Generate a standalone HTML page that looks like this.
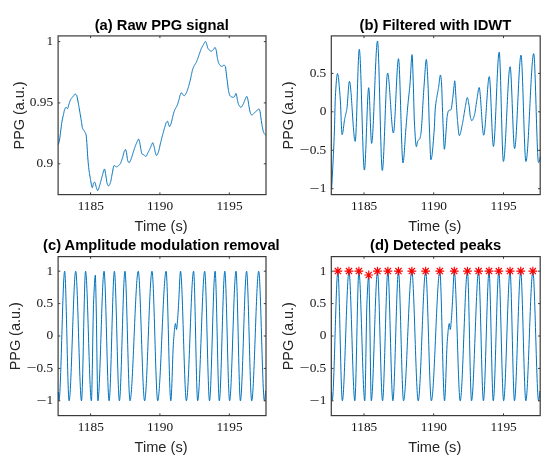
<!DOCTYPE html>
<html><head><meta charset="utf-8"><title>PPG figure</title><style>html,body{margin:0;padding:0;background:#fff;overflow:hidden}svg{display:block}</style></head><body>
<svg width="550" height="460" viewBox="0 0 550 460">
<rect width="550" height="460" fill="#fff"/>
<style>text{font-family:"Liberation Sans",Arial,Helvetica,sans-serif;fill:#262626}.tk{font-family:"Liberation Serif","Times New Roman",serif;font-size:13.33px;fill:#151515}.lb{font-size:14.67px}.tt{font-size:14.67px;font-weight:bold;fill:#000}</style>
<path d="M58.30 144.50L58.50 144.05L58.70 143.44L58.90 142.72L59.10 141.89L59.30 140.98L59.50 140.00L59.50 140.00L59.70 138.84L59.90 137.44L60.10 135.86L60.30 134.21L60.50 132.56L60.70 131.00L60.70 131.00L60.90 129.48L61.10 127.93L61.30 126.37L61.50 124.85L61.70 123.41L61.90 122.10L62.00 121.50L62.10 120.94L62.30 119.88L62.50 118.89L62.70 117.96L62.90 117.07L63.10 116.20L63.30 115.33L63.50 114.45L63.60 114.00L63.70 113.53L63.90 112.53L64.10 111.53L64.30 110.66L64.50 110.00L64.50 110.00L64.70 109.49L64.90 109.00L65.10 108.55L65.30 108.14L65.50 107.80L65.70 107.53L65.90 107.36L66.10 107.30L66.10 107.30L66.30 107.37L66.50 107.56L66.70 107.81L66.90 108.09L67.10 108.34L67.30 108.53L67.50 108.60L67.50 108.60L67.70 108.45L67.90 108.03L68.10 107.41L68.30 106.66L68.50 105.83L68.70 105.01L68.90 104.24L69.10 103.60L69.10 103.60L69.30 103.04L69.50 102.47L69.70 101.91L69.90 101.36L70.10 100.83L70.30 100.33L70.50 99.87L70.70 99.46L70.90 99.10L70.90 99.10L71.10 98.79L71.30 98.51L71.50 98.25L71.70 98.01L71.90 97.78L72.10 97.56L72.30 97.36L72.50 97.15L72.70 96.95L72.90 96.73L73.10 96.51L73.20 96.40L73.30 96.28L73.50 96.01L73.70 95.71L73.90 95.41L74.10 95.11L74.30 94.82L74.50 94.56L74.70 94.35L74.90 94.20L75.10 94.11L75.20 94.10L75.30 94.11L75.50 94.16L75.70 94.26L75.90 94.41L76.10 94.60L76.30 94.82L76.50 95.07L76.60 95.20L76.70 95.38L76.90 96.01L77.10 96.88L77.30 97.90L77.50 98.97L77.70 100.00L77.70 100.00L77.90 100.99L78.10 102.03L78.30 103.11L78.50 104.22L78.70 105.36L78.90 106.51L79.10 107.67L79.30 108.84L79.50 110.00L79.50 110.00L79.70 111.17L79.90 112.35L80.10 113.56L80.30 114.77L80.50 115.99L80.70 117.21L80.90 118.44L81.10 119.67L81.30 120.89L81.40 121.50L81.50 122.14L81.70 123.53L81.90 124.96L82.10 126.31L82.30 127.44L82.50 128.20L82.50 128.20L82.70 128.69L82.90 129.10L83.10 129.44L83.30 129.74L83.50 130.00L83.70 130.25L83.90 130.49L84.10 130.76L84.30 131.05L84.50 131.40L84.50 131.40L84.70 131.75L84.90 132.08L85.10 132.41L85.30 132.77L85.50 133.18L85.70 133.67L85.90 134.27L86.10 135.00L86.10 135.00L86.30 136.35L86.50 138.50L86.70 141.02L86.80 142.30L86.90 143.66L87.10 146.83L87.30 150.27L87.50 153.55L87.60 155.00L87.70 156.35L87.90 159.00L88.10 161.50L88.30 163.82L88.50 165.88L88.60 166.80L88.70 167.66L88.90 169.30L89.10 170.84L89.30 172.27L89.50 173.63L89.70 174.90L89.90 176.12L90.10 177.28L90.30 178.41L90.50 179.50L90.50 179.50L90.70 180.64L90.90 181.84L91.10 183.07L91.30 184.26L91.50 185.35L91.70 186.30L91.90 187.04L92.10 187.53L92.30 187.70L92.30 187.70L92.50 187.42L92.70 186.69L92.90 185.71L93.10 184.65L93.30 183.70L93.50 183.06L93.60 182.90L93.70 182.81L93.90 182.66L94.10 182.53L94.30 182.42L94.50 182.34L94.70 182.31L94.80 182.30L94.90 182.35L95.10 182.68L95.30 183.27L95.50 184.04L95.70 184.91L95.90 185.82L96.10 186.67L96.30 187.40L96.40 187.70L96.50 187.98L96.70 188.57L96.90 189.16L97.10 189.71L97.30 190.17L97.50 190.48L97.70 190.60L97.70 190.60L97.90 190.50L98.10 190.21L98.30 189.78L98.50 189.23L98.70 188.60L98.90 187.91L99.10 187.21L99.30 186.53L99.50 185.90L99.50 185.90L99.70 185.28L99.90 184.63L100.10 183.95L100.30 183.24L100.50 182.51L100.70 181.77L100.90 181.01L101.10 180.25L101.30 179.50L101.50 178.74L101.70 178.00L101.90 177.28L102.10 176.58L102.30 175.90L102.30 175.90L102.50 175.20L102.70 174.42L102.90 173.61L103.10 172.79L103.30 171.98L103.50 171.22L103.70 170.53L103.90 169.95L104.10 169.50L104.30 169.20L104.50 169.10L104.50 169.10L104.70 169.35L104.90 170.01L105.10 171.00L105.30 172.18L105.50 173.47L105.70 174.74L105.90 175.90L105.90 175.90L106.10 177.08L106.30 178.43L106.50 179.84L106.70 181.22L106.90 182.45L107.10 183.45L107.30 184.10L107.30 184.10L107.50 184.53L107.70 184.93L107.90 185.28L108.10 185.57L108.30 185.78L108.50 185.89L108.60 185.90L108.70 185.88L108.90 185.77L109.10 185.55L109.30 185.24L109.50 184.86L109.70 184.42L109.90 183.93L110.10 183.40L110.30 182.85L110.50 182.30L110.50 182.30L110.70 181.64L110.90 180.80L111.10 179.82L111.30 178.74L111.50 177.59L111.70 176.43L111.90 175.28L112.10 174.19L112.30 173.20L112.30 173.20L112.50 172.20L112.70 171.11L112.90 169.97L113.10 168.84L113.30 167.80L113.50 166.88L113.70 166.15L113.90 165.67L114.10 165.50L114.10 165.50L114.30 165.53L114.50 165.60L114.70 165.72L114.90 165.86L115.10 166.02L115.30 166.19L115.50 166.36L115.70 166.51L115.90 166.64L116.10 166.74L116.30 166.79L116.40 166.80L116.50 166.80L116.70 166.77L116.90 166.73L117.10 166.66L117.30 166.58L117.50 166.48L117.70 166.36L117.90 166.22L118.10 166.07L118.30 165.90L118.50 165.72L118.70 165.54L118.90 165.34L119.10 165.13L119.30 164.91L119.50 164.68L119.70 164.45L119.90 164.22L120.00 164.10L120.10 163.97L120.30 163.67L120.50 163.30L120.70 162.88L120.90 162.41L121.10 161.91L121.30 161.38L121.50 160.82L121.70 160.24L121.90 159.66L122.10 159.08L122.30 158.50L122.30 158.50L122.50 157.88L122.70 157.18L122.90 156.43L123.10 155.64L123.30 154.84L123.50 154.04L123.70 153.27L123.90 152.55L124.10 151.90L124.30 151.34L124.50 150.90L124.50 150.90L124.70 150.51L124.90 150.13L125.10 149.81L125.30 149.59L125.50 149.50L125.50 149.50L125.70 149.71L125.90 150.26L126.10 151.03L126.30 151.88L126.40 152.30L126.50 152.77L126.70 154.00L126.90 155.48L127.10 157.04L127.30 158.51L127.50 159.72L127.70 160.50L127.70 160.50L127.90 160.99L128.10 161.45L128.30 161.86L128.50 162.21L128.70 162.47L128.90 162.64L129.10 162.70L129.10 162.70L129.30 162.63L129.50 162.45L129.70 162.16L129.90 161.80L130.10 161.38L130.30 160.92L130.50 160.44L130.70 159.96L130.90 159.50L130.90 159.50L131.10 159.03L131.30 158.52L131.50 157.96L131.70 157.36L131.90 156.74L132.10 156.09L132.30 155.42L132.50 154.73L132.70 154.05L132.90 153.35L133.10 152.67L133.30 151.99L133.50 151.33L133.70 150.69L133.90 150.08L134.10 149.50L134.10 149.50L134.30 148.94L134.50 148.38L134.70 147.83L134.90 147.28L135.10 146.74L135.30 146.20L135.50 145.67L135.70 145.14L135.90 144.63L136.10 144.13L136.30 143.64L136.50 143.16L136.70 142.70L136.90 142.25L137.10 141.82L137.30 141.40L137.30 141.40L137.50 140.96L137.70 140.49L137.90 140.03L138.10 139.62L138.30 139.30L138.50 139.12L138.60 139.10L138.70 139.14L138.90 139.45L139.10 140.00L139.30 140.71L139.50 141.50L139.70 142.30L139.70 142.30L139.90 143.24L140.10 144.44L140.30 145.78L140.50 147.15L140.70 148.43L140.90 149.50L140.90 149.50L141.10 150.47L141.30 151.45L141.50 152.37L141.70 153.17L141.90 153.77L142.10 154.10L142.10 154.10L142.30 154.25L142.50 154.38L142.70 154.48L142.90 154.56L143.10 154.62L143.30 154.68L143.50 154.75L143.70 154.81L143.90 154.90L144.10 155.00L144.10 155.00L144.30 155.14L144.50 155.32L144.70 155.52L144.90 155.73L145.10 155.93L145.30 156.11L145.50 156.26L145.70 156.36L145.90 156.40L145.90 156.40L146.10 156.33L146.30 156.13L146.50 155.82L146.70 155.44L146.90 155.00L147.10 154.53L147.30 154.06L147.50 153.61L147.70 153.20L147.70 153.20L147.90 152.82L148.10 152.44L148.30 152.06L148.50 151.67L148.70 151.27L148.90 150.87L149.10 150.47L149.30 150.06L149.50 149.65L149.70 149.23L149.90 148.81L150.00 148.60L150.10 148.38L150.30 147.94L150.50 147.48L150.70 147.02L150.90 146.55L151.10 146.08L151.30 145.61L151.50 145.16L151.70 144.71L151.80 144.50L151.90 144.27L152.10 143.75L152.30 143.24L152.50 142.85L152.70 142.70L152.70 142.70L152.90 142.84L153.10 143.23L153.30 143.80L153.50 144.48L153.70 145.20L153.90 145.90L153.90 145.90L154.10 146.66L154.30 147.56L154.50 148.57L154.70 149.62L154.90 150.66L155.10 151.64L155.30 152.50L155.50 153.20L155.50 153.20L155.70 153.82L155.90 154.44L156.10 154.98L156.30 155.36L156.50 155.50L156.50 155.50L156.70 155.44L156.90 155.27L157.10 155.02L157.30 154.68L157.50 154.29L157.70 153.86L157.90 153.40L158.10 152.93L158.20 152.70L158.30 152.45L158.50 151.87L158.70 151.18L158.90 150.41L159.10 149.56L159.30 148.67L159.50 147.74L159.70 146.79L159.90 145.85L160.10 144.92L160.30 144.03L160.50 143.20L160.50 143.20L160.70 142.40L160.90 141.60L161.10 140.81L161.30 140.02L161.50 139.23L161.70 138.45L161.90 137.67L162.10 136.90L162.30 136.13L162.50 135.37L162.70 134.62L162.90 133.87L163.00 133.50L163.10 133.13L163.30 132.39L163.50 131.66L163.70 130.93L163.90 130.21L164.10 129.50L164.30 128.81L164.50 128.13L164.60 127.80L164.70 127.46L164.90 126.77L165.10 126.05L165.30 125.33L165.50 124.63L165.70 123.98L165.90 123.38L166.10 122.87L166.30 122.46L166.40 122.30L166.50 122.15L166.70 121.87L166.90 121.61L167.10 121.40L167.30 121.25L167.50 121.20L167.50 121.20L167.70 121.42L167.90 121.96L168.10 122.69L168.30 123.45L168.50 124.10L168.50 124.10L168.70 124.70L168.90 125.37L169.10 125.98L169.30 126.43L169.50 126.60L169.50 126.60L169.70 126.52L169.90 126.30L170.10 125.97L170.30 125.56L170.50 125.09L170.70 124.60L170.90 124.10L170.90 124.10L171.10 123.54L171.30 122.85L171.50 122.06L171.70 121.20L171.90 120.29L172.10 119.37L172.30 118.46L172.50 117.60L172.70 116.80L172.70 116.80L172.90 116.04L173.10 115.27L173.30 114.51L173.50 113.75L173.70 113.02L173.90 112.32L174.10 111.66L174.30 111.05L174.50 110.50L174.50 110.50L174.70 110.01L174.90 109.56L175.10 109.15L175.30 108.77L175.50 108.41L175.70 108.06L175.90 107.72L176.10 107.39L176.30 107.04L176.50 106.69L176.70 106.31L176.90 105.91L177.10 105.48L177.30 105.00L177.30 105.00L177.50 104.47L177.70 103.90L177.90 103.28L178.10 102.63L178.30 101.95L178.50 101.26L178.70 100.55L178.90 99.85L179.00 99.50L179.10 99.14L179.30 98.35L179.50 97.52L179.70 96.70L179.90 95.93L180.10 95.28L180.20 95.00L180.30 94.74L180.50 94.21L180.70 93.70L180.90 93.26L181.10 92.92L181.30 92.73L181.40 92.70L181.50 92.72L181.70 92.90L181.90 93.19L182.10 93.55L182.30 93.92L182.50 94.26L182.70 94.50L182.70 94.50L182.90 94.68L183.10 94.86L183.30 95.04L183.50 95.20L183.70 95.35L183.90 95.46L184.10 95.55L184.30 95.59L184.40 95.60L184.50 95.59L184.70 95.50L184.90 95.33L185.10 95.09L185.30 94.79L185.50 94.45L185.70 94.08L185.90 93.69L186.10 93.29L186.30 92.89L186.40 92.70L186.50 92.50L186.70 92.07L186.90 91.59L187.10 91.07L187.30 90.52L187.50 89.94L187.70 89.33L187.90 88.70L188.10 88.05L188.30 87.39L188.50 86.73L188.60 86.40L188.70 86.06L188.90 85.37L189.10 84.64L189.30 83.89L189.50 83.12L189.70 82.32L189.90 81.51L190.10 80.68L190.30 79.85L190.50 79.00L190.70 78.15L190.90 77.30L190.90 77.30L191.10 76.41L191.30 75.45L191.50 74.46L191.70 73.47L191.90 72.50L192.10 71.58L192.30 70.73L192.50 70.00L192.50 70.00L192.70 69.35L192.90 68.75L193.10 68.18L193.30 67.66L193.50 67.17L193.70 66.71L193.80 66.50L193.90 66.29L194.10 65.91L194.30 65.56L194.50 65.23L194.70 64.92L194.90 64.63L195.10 64.33L195.30 64.04L195.50 63.74L195.70 63.41L195.90 63.07L196.10 62.70L196.20 62.50L196.30 62.29L196.50 61.85L196.70 61.38L196.90 60.88L197.10 60.36L197.30 59.82L197.50 59.27L197.70 58.70L197.90 58.13L198.10 57.55L198.30 56.97L198.50 56.39L198.70 55.81L198.90 55.25L199.10 54.70L199.10 54.70L199.30 54.15L199.50 53.58L199.70 53.00L199.90 52.42L200.10 51.84L200.30 51.26L200.50 50.70L200.70 50.14L200.90 49.61L201.10 49.10L201.30 48.63L201.40 48.40L201.50 48.18L201.70 47.75L201.90 47.34L202.10 46.95L202.30 46.56L202.50 46.19L202.70 45.83L202.90 45.48L203.10 45.13L203.30 44.80L203.50 44.46L203.60 44.30L203.70 44.13L203.90 43.76L204.10 43.37L204.30 42.98L204.50 42.60L204.70 42.25L204.90 41.95L205.10 41.71L205.30 41.56L205.50 41.50L205.50 41.50L205.70 41.62L205.90 41.94L206.10 42.41L206.30 42.95L206.50 43.53L206.60 43.80L206.70 44.10L206.90 44.86L207.10 45.72L207.30 46.59L207.50 47.36L207.70 47.90L207.70 47.90L207.90 48.28L208.10 48.62L208.30 48.94L208.50 49.22L208.70 49.47L208.90 49.69L209.10 49.89L209.30 50.06L209.50 50.20L209.50 50.20L209.70 50.33L209.90 50.46L210.10 50.58L210.30 50.69L210.50 50.80L210.70 50.89L210.90 50.97L211.10 51.03L211.30 51.07L211.50 51.10L211.60 51.10L211.70 51.09L211.90 51.03L212.10 50.92L212.30 50.76L212.50 50.57L212.70 50.36L212.90 50.12L213.10 49.88L213.30 49.64L213.50 49.41L213.60 49.30L213.70 49.18L213.90 48.89L214.10 48.55L214.30 48.21L214.50 47.90L214.70 47.66L214.90 47.52L215.00 47.50L215.10 47.53L215.30 47.73L215.50 48.10L215.70 48.61L215.90 49.21L216.10 49.86L216.20 50.20L216.30 50.61L216.50 51.76L216.70 53.22L216.90 54.79L217.10 56.28L217.30 57.50L217.30 57.50L217.50 58.52L217.70 59.51L217.90 60.44L218.10 61.29L218.30 62.04L218.50 62.65L218.60 62.90L218.70 63.13L218.90 63.56L219.10 63.96L219.30 64.34L219.50 64.68L219.70 64.98L219.90 65.25L220.10 65.47L220.30 65.66L220.50 65.80L220.50 65.80L220.70 65.92L220.90 66.03L221.10 66.12L221.30 66.21L221.50 66.26L221.70 66.30L221.80 66.30L221.90 66.29L222.10 66.25L222.30 66.17L222.50 66.06L222.70 65.93L222.90 65.79L223.10 65.64L223.30 65.51L223.50 65.39L223.70 65.29L223.90 65.22L224.10 65.20L224.10 65.20L224.30 65.23L224.50 65.34L224.70 65.50L224.90 65.72L225.10 65.99L225.30 66.32L225.40 66.50L225.50 66.81L225.70 68.04L225.90 69.80L226.10 71.74L226.30 73.50L226.30 73.50L226.50 75.07L226.70 76.65L226.90 78.23L227.10 79.80L227.30 81.36L227.50 82.90L227.50 82.90L227.70 84.50L227.90 86.17L228.10 87.82L228.30 89.32L228.50 90.59L228.60 91.10L228.70 91.56L228.90 92.44L229.10 93.26L229.30 94.00L229.50 94.64L229.70 95.17L229.90 95.56L230.00 95.70L230.10 95.82L230.30 96.04L230.50 96.24L230.70 96.41L230.90 96.57L231.10 96.70L231.30 96.81L231.50 96.90L231.70 96.97L231.80 97.00L231.90 97.02L232.10 97.07L232.30 97.12L232.50 97.16L232.70 97.20L232.90 97.23L233.10 97.26L233.30 97.28L233.50 97.29L233.70 97.30L233.80 97.30L233.90 97.28L234.10 97.14L234.30 96.88L234.50 96.55L234.70 96.17L234.90 95.79L235.00 95.60L235.10 95.38L235.30 94.79L235.50 94.14L235.70 93.61L235.90 93.40L235.90 93.40L236.10 93.64L236.30 94.26L236.50 95.12L236.70 96.05L236.80 96.50L236.90 96.99L237.10 98.17L237.30 99.42L237.50 100.50L237.50 100.50L237.70 101.40L237.90 102.25L238.10 103.04L238.30 103.73L238.50 104.28L238.60 104.50L238.70 104.69L238.90 105.07L239.10 105.43L239.30 105.78L239.50 106.10L239.70 106.39L239.90 106.65L240.10 106.87L240.30 107.05L240.50 107.19L240.70 107.27L240.90 107.30L240.90 107.30L241.10 107.26L241.30 107.15L241.50 106.97L241.70 106.73L241.90 106.45L242.10 106.13L242.30 105.78L242.50 105.41L242.70 105.03L242.90 104.65L243.10 104.28L243.20 104.10L243.30 103.92L243.50 103.50L243.70 103.04L243.90 102.54L244.10 102.02L244.30 101.48L244.50 100.93L244.70 100.39L244.90 99.86L245.10 99.37L245.30 98.91L245.50 98.50L245.50 98.50L245.70 98.09L245.90 97.66L246.10 97.24L246.30 96.87L246.50 96.58L246.70 96.42L246.80 96.40L246.90 96.44L247.10 96.75L247.30 97.29L247.50 97.99L247.70 98.79L247.90 99.60L247.90 99.60L248.10 100.58L248.30 101.83L248.50 103.23L248.70 104.64L248.90 105.94L249.00 106.50L249.10 107.03L249.30 108.11L249.50 109.17L249.70 110.20L249.90 111.15L250.10 111.99L250.30 112.68L250.50 113.20L250.50 113.20L250.70 113.61L250.90 114.01L251.10 114.36L251.30 114.65L251.50 114.87L251.70 114.98L251.80 115.00L251.90 114.99L252.10 114.95L252.30 114.86L252.50 114.73L252.70 114.58L252.90 114.40L253.10 114.20L253.30 114.00L253.50 113.79L253.70 113.58L253.90 113.38L254.10 113.20L254.10 113.20L254.30 113.02L254.50 112.82L254.70 112.62L254.90 112.41L255.10 112.19L255.30 111.97L255.50 111.75L255.70 111.54L255.90 111.33L256.10 111.12L256.30 110.93L256.50 110.74L256.70 110.58L256.80 110.50L256.90 110.42L257.10 110.26L257.30 110.10L257.50 109.94L257.70 109.77L257.90 109.62L258.10 109.48L258.30 109.35L258.50 109.25L258.70 109.17L258.90 109.12L259.10 109.10L259.10 109.10L259.30 109.26L259.50 109.69L259.70 110.30L259.90 111.03L260.00 111.40L260.10 111.85L260.30 113.08L260.50 114.61L260.70 116.22L260.90 117.70L260.90 117.70L261.10 119.07L261.30 120.47L261.50 121.85L261.70 123.21L261.90 124.50L262.10 125.71L262.30 126.80L262.30 126.80L262.50 127.82L262.70 128.83L262.90 129.78L263.10 130.65L263.30 131.42L263.50 132.05L263.60 132.30L263.70 132.53L263.90 132.95L264.10 133.33L264.30 133.66L264.50 133.96L264.70 134.21L264.90 134.41L265.00 134.50L265.10 134.58L265.30 134.72L265.50 134.85L265.70 134.95L265.90 135.00" fill="none" stroke="#0072BD" stroke-width="1.00" stroke-linejoin="round"/>
<path d="M331.60 188.70L331.80 185.46L332.00 182.06L332.20 178.52L332.40 174.84L332.60 171.03L332.80 167.10L333.00 163.06L333.10 161.00L333.20 158.93L333.40 154.76L333.60 150.49L333.80 146.04L334.00 141.35L334.20 136.32L334.40 130.89L334.50 128.00L334.60 124.65L334.80 116.36L335.00 107.61L335.20 100.40L335.30 98.00L335.40 96.15L335.60 92.58L335.80 89.21L336.00 86.08L336.20 83.21L336.40 80.66L336.60 78.44L336.80 76.60L337.00 75.17L337.20 74.18L337.40 73.67L337.50 73.60L337.60 73.65L337.80 74.06L338.00 74.85L338.20 75.98L338.40 77.41L338.60 79.11L338.80 81.04L339.00 83.17L339.20 85.46L339.40 87.87L339.60 90.36L339.80 92.90L340.00 95.46L340.20 98.00L340.20 98.00L340.40 101.14L340.60 105.32L340.80 110.17L341.00 115.37L341.20 120.56L341.40 125.40L341.60 129.55L341.80 132.65L342.00 134.37L342.10 134.60L342.20 134.55L342.40 134.18L342.60 133.49L342.80 132.52L343.00 131.32L343.20 129.95L343.40 128.45L343.60 126.87L343.80 125.25L344.00 123.65L344.20 122.12L344.40 120.71L344.60 119.45L344.70 118.90L344.80 118.39L345.00 117.44L345.20 116.57L345.40 115.74L345.60 114.94L345.80 114.14L346.00 113.32L346.20 112.45L346.40 111.51L346.60 110.48L346.80 109.33L346.90 108.70L347.00 107.98L347.20 106.11L347.40 103.78L347.60 101.11L347.80 98.22L348.00 95.23L348.20 92.24L348.40 89.39L348.60 86.80L348.80 84.57L349.00 82.83L349.20 81.70L349.40 81.30L349.40 81.30L349.60 81.51L349.80 82.12L350.00 83.10L350.20 84.41L350.40 86.04L350.60 87.95L350.80 90.11L351.00 92.50L351.20 95.07L351.40 97.81L351.60 100.68L351.80 103.66L352.00 106.70L352.20 109.80L352.40 112.90L352.60 116.00L352.80 119.04L353.00 122.02L353.20 124.89L353.40 127.63L353.60 130.20L353.80 132.59L354.00 134.75L354.20 136.66L354.40 138.29L354.60 139.60L354.80 140.58L355.00 141.19L355.20 141.40L355.20 141.40L355.40 140.76L355.60 138.94L355.80 136.06L356.00 132.25L356.20 127.64L356.40 122.35L356.60 116.52L356.80 110.27L357.00 103.73L357.20 97.03L357.40 90.30L357.60 83.67L357.80 77.26L358.00 71.21L358.20 65.63L358.40 60.67L358.60 56.44L358.80 53.08L359.00 50.71L359.20 49.46L359.30 49.30L359.40 49.44L359.60 50.50L359.80 52.56L360.00 55.50L360.20 59.26L360.40 63.73L360.60 68.85L360.80 74.50L361.00 80.62L361.20 87.11L361.40 93.88L361.60 100.85L361.80 107.92L362.00 115.02L362.20 122.06L362.40 128.94L362.60 135.58L362.80 141.89L363.00 147.79L363.20 153.18L363.40 157.99L363.60 162.12L363.80 165.48L364.00 167.99L364.20 169.56L364.40 170.10L364.40 170.10L364.60 169.58L364.80 168.09L365.00 165.73L365.20 162.60L365.40 158.80L365.60 154.43L365.80 149.58L366.00 144.36L366.20 138.87L366.40 133.20L366.60 127.46L366.80 121.75L367.00 116.15L367.20 110.79L367.40 105.74L367.60 101.12L367.80 97.02L368.00 93.54L368.20 90.78L368.40 88.85L368.60 87.83L368.70 87.70L368.80 87.89L369.00 89.36L369.20 92.10L369.40 95.87L369.60 100.46L369.80 105.66L370.00 111.24L370.20 116.99L370.40 122.68L370.60 128.10L370.80 133.02L371.00 137.23L371.20 140.51L371.40 142.64L371.60 143.40L371.60 143.40L371.80 143.05L372.00 142.05L372.20 140.44L372.40 138.26L372.60 135.57L372.80 132.42L373.00 128.84L373.20 124.89L373.40 120.62L373.60 116.08L373.80 111.30L374.00 106.35L374.20 101.27L374.40 96.10L374.60 90.90L374.80 85.71L375.00 80.58L375.20 75.55L375.40 70.68L375.60 66.02L375.80 61.61L376.00 57.49L376.20 53.72L376.40 50.35L376.60 47.42L376.80 44.98L377.00 43.08L377.20 41.77L377.40 41.09L377.50 41.00L377.60 41.17L377.80 42.45L378.00 44.92L378.20 48.46L378.40 52.95L378.60 58.29L378.80 64.35L379.00 71.04L379.20 78.23L379.40 85.81L379.60 93.67L379.80 101.71L380.00 109.79L380.20 117.83L380.40 125.69L380.60 133.27L380.80 140.46L381.00 147.15L381.20 153.21L381.40 158.55L381.60 163.04L381.80 166.58L382.00 169.05L382.20 170.33L382.30 170.50L382.40 170.40L382.60 169.60L382.80 168.06L383.00 165.85L383.20 163.02L383.40 159.64L383.60 155.78L383.80 151.49L384.00 146.84L384.20 141.89L384.40 136.71L384.60 131.35L384.80 125.88L385.00 120.37L385.20 114.87L385.40 109.45L385.60 104.17L385.80 99.10L386.00 94.29L386.20 89.82L386.40 85.73L386.60 82.10L386.80 78.99L387.00 76.47L387.20 74.58L387.40 73.41L387.60 73.00L387.60 73.00L387.80 73.21L388.00 73.82L388.20 74.79L388.40 76.11L388.60 77.74L388.80 79.64L389.00 81.80L389.20 84.18L389.40 86.75L389.60 89.48L389.80 92.35L390.00 95.32L390.20 98.36L390.40 101.45L390.60 104.55L390.80 107.64L391.00 110.68L391.20 113.65L391.40 116.52L391.60 119.25L391.80 121.82L392.00 124.20L392.20 126.36L392.40 128.26L392.60 129.89L392.80 131.21L393.00 132.18L393.20 132.79L393.40 133.00L393.40 133.00L393.60 132.67L393.80 131.70L394.00 130.16L394.20 128.09L394.40 125.55L394.60 122.60L394.80 119.28L395.00 115.65L395.20 111.77L395.40 107.68L395.60 103.45L395.80 99.12L396.00 94.76L396.20 90.40L396.40 86.12L396.60 81.95L396.80 77.96L397.00 74.20L397.20 70.72L397.40 67.58L397.60 64.82L397.80 62.51L398.00 60.70L398.20 59.44L398.40 58.78L398.50 58.70L398.60 58.85L398.80 60.03L399.00 62.28L399.20 65.49L399.40 69.55L399.60 74.35L399.80 79.78L400.00 85.74L400.20 92.11L400.40 98.78L400.60 105.64L400.80 112.59L401.00 119.51L401.20 126.29L401.40 132.82L401.60 139.00L401.80 144.71L402.00 149.84L402.20 154.28L402.40 157.93L402.60 160.67L402.80 162.40L403.00 163.00L403.00 163.00L403.20 162.68L403.40 161.76L403.60 160.31L403.80 158.41L404.00 156.12L404.20 153.52L404.40 150.68L404.60 147.67L404.80 144.56L405.00 141.42L405.20 138.32L405.40 135.34L405.60 132.54L405.80 130.00L405.80 130.00L406.00 127.58L406.20 125.12L406.40 122.63L406.60 120.14L406.80 117.64L407.00 115.17L407.20 112.73L407.40 110.35L407.60 108.03L407.80 105.80L407.80 105.80L408.00 103.68L408.20 101.68L408.40 99.75L408.60 97.89L408.80 96.05L409.00 94.21L409.20 92.34L409.40 90.41L409.60 88.40L409.80 86.27L410.00 84.00L410.00 84.00L410.20 81.30L410.40 78.04L410.60 74.39L410.80 70.57L411.00 66.76L411.20 63.15L411.40 59.94L411.60 57.32L411.80 55.49L412.00 54.64L412.05 54.60L412.20 55.32L412.40 58.24L412.60 62.86L412.80 68.59L413.00 74.86L413.20 81.09L413.30 84.00L413.40 87.05L413.60 94.26L413.80 102.23L414.00 110.08L414.20 116.96L414.40 122.00L414.40 122.00L414.60 125.79L414.80 129.47L415.00 132.98L415.20 136.24L415.40 139.18L415.60 141.74L415.80 143.85L416.00 145.44L416.20 146.45L416.40 146.80L416.40 146.80L416.60 146.46L416.80 145.59L417.00 144.41L417.20 143.17L417.40 142.09L417.60 141.40L417.60 141.40L417.80 141.02L418.00 140.72L418.20 140.47L418.40 140.27L418.60 140.09L418.80 139.92L419.00 139.74L419.20 139.53L419.40 139.28L419.60 138.98L419.80 138.60L419.80 138.60L420.00 138.08L420.20 137.38L420.40 136.52L420.60 135.49L420.80 134.33L420.90 133.70L421.00 132.98L421.20 131.11L421.40 128.84L421.60 126.31L421.70 125.00L421.80 123.61L422.00 120.47L422.20 116.96L422.40 113.21L422.60 109.38L422.80 105.62L423.00 102.06L423.10 100.40L423.20 98.80L423.40 95.64L423.60 92.55L423.80 89.57L424.00 86.71L424.20 84.00L424.20 84.00L424.40 81.24L424.60 78.28L424.80 75.23L425.00 72.17L425.20 69.23L425.40 66.49L425.60 64.05L425.80 62.03L426.00 60.52L426.20 59.61L426.35 59.40L426.40 59.44L426.60 60.27L426.80 62.07L427.00 64.68L427.20 67.92L427.40 71.64L427.60 75.68L427.80 79.85L428.00 84.00L428.00 84.00L428.20 88.82L428.40 94.82L428.60 101.59L428.80 108.71L429.00 115.77L429.20 122.33L429.40 128.00L429.40 128.00L429.60 133.36L429.80 139.04L430.00 144.68L430.20 149.91L430.40 154.38L430.60 157.71L430.80 159.55L430.90 159.80L431.00 159.76L431.20 159.44L431.40 158.81L431.60 157.90L431.80 156.73L432.00 155.32L432.20 153.69L432.40 151.86L432.60 149.86L432.80 147.70L433.00 145.41L433.20 143.00L433.40 140.50L433.60 137.93L433.80 135.31L434.00 132.66L434.20 130.00L434.20 130.00L434.40 126.62L434.60 122.22L434.80 117.44L435.00 112.92L435.20 109.28L435.30 108.00L435.40 106.97L435.60 105.11L435.80 103.49L436.00 102.06L436.20 100.78L436.40 99.59L436.60 98.46L436.80 97.35L437.00 96.20L437.10 95.60L437.20 95.00L437.40 93.85L437.60 92.76L437.80 91.70L438.00 90.64L438.20 89.57L438.40 88.47L438.60 87.30L438.60 87.30L438.80 85.94L439.00 84.34L439.20 82.61L439.40 80.84L439.60 79.13L439.80 77.60L440.00 76.33L440.20 75.44L440.40 75.02L440.45 75.00L440.60 75.19L440.80 76.01L441.00 77.39L441.20 79.24L441.40 81.48L441.60 84.00L441.60 84.00L441.80 88.55L442.00 94.98L442.10 98.00L442.20 100.80L442.40 106.55L442.60 112.34L442.80 117.97L443.00 123.25L443.20 128.00L443.20 128.00L443.40 132.72L443.60 137.70L443.80 142.38L444.00 146.22L444.20 148.68L444.35 149.30L444.40 149.27L444.60 148.69L444.80 147.42L445.00 145.59L445.20 143.31L445.40 140.70L445.60 137.87L445.80 134.95L446.00 132.05L446.20 129.29L446.30 128.00L446.40 126.63L446.60 123.41L446.80 120.15L447.00 117.55L447.10 116.70L447.20 116.06L447.40 114.87L447.60 113.79L447.80 112.83L448.00 112.02L448.20 111.37L448.40 110.88L448.60 110.58L448.70 110.50L448.80 110.45L449.00 110.37L449.20 110.31L449.40 110.26L449.60 110.23L449.80 110.20L450.00 110.17L450.20 110.14L450.40 110.09L450.60 110.03L450.80 109.95L450.90 109.90L451.00 109.79L451.20 109.26L451.40 108.37L451.60 107.19L451.80 105.79L452.00 104.23L452.20 102.58L452.40 100.90L452.60 99.28L452.70 98.50L452.80 97.71L453.00 95.98L453.20 94.11L453.40 92.14L453.60 90.16L453.80 88.21L454.00 86.36L454.10 85.50L454.20 84.57L454.40 82.52L454.60 81.03L454.70 80.80L454.80 81.00L455.00 82.44L455.20 84.97L455.40 88.22L455.60 91.80L455.80 95.36L456.00 98.50L456.00 98.50L456.20 101.43L456.40 104.53L456.60 107.70L456.80 110.85L457.00 113.89L457.20 116.73L457.40 119.27L457.50 120.40L457.60 121.50L457.80 123.77L458.00 126.08L458.20 128.33L458.40 130.43L458.60 132.29L458.80 133.82L459.00 134.92L459.20 135.52L459.30 135.60L459.40 135.58L459.60 135.41L459.80 135.10L460.00 134.65L460.20 134.07L460.40 133.39L460.60 132.62L460.80 131.76L461.00 130.84L461.20 129.87L461.40 128.86L461.60 127.83L461.80 126.79L462.00 125.76L462.20 124.75L462.40 123.77L462.50 123.30L462.60 122.83L462.80 121.82L463.00 120.75L463.20 119.62L463.40 118.44L463.60 117.23L463.80 115.99L464.00 114.74L464.20 113.48L464.40 112.22L464.60 110.97L464.80 109.75L465.00 108.56L465.20 107.42L465.40 106.32L465.50 105.80L465.60 105.27L465.80 104.10L466.00 102.86L466.20 101.62L466.40 100.43L466.60 99.37L466.80 98.51L467.00 97.90L467.20 97.61L467.25 97.60L467.40 97.69L467.60 98.05L467.80 98.67L468.00 99.49L468.20 100.47L468.40 101.58L468.60 102.76L468.80 103.99L469.00 105.20L469.10 105.80L469.20 106.45L469.40 108.08L469.60 109.99L469.80 112.02L470.00 113.98L470.20 115.72L470.40 117.04L470.50 117.50L470.60 117.88L470.80 118.60L471.00 119.27L471.20 119.85L471.40 120.30L471.60 120.59L471.80 120.70L471.80 120.70L472.00 120.65L472.20 120.51L472.40 120.29L472.60 120.00L472.80 119.64L473.00 119.22L473.20 118.76L473.40 118.25L473.60 117.72L473.80 117.16L474.00 116.58L474.20 116.00L474.20 116.00L474.40 115.33L474.60 114.50L474.80 113.53L475.00 112.44L475.20 111.24L475.40 109.96L475.60 108.62L475.80 107.23L476.00 105.82L476.20 104.41L476.40 103.01L476.60 101.64L476.80 100.33L477.00 99.09L477.10 98.50L477.20 97.90L477.40 96.59L477.60 95.17L477.80 93.70L478.00 92.26L478.20 90.90L478.40 89.69L478.60 88.68L478.80 87.95L479.00 87.55L479.10 87.50L479.20 87.57L479.40 88.08L479.60 89.07L479.80 90.48L480.00 92.26L480.20 94.38L480.40 96.78L480.60 99.41L480.80 102.23L481.00 105.19L481.20 108.25L481.40 111.35L481.60 114.45L481.80 117.51L482.00 120.47L482.20 123.29L482.40 125.92L482.60 128.32L482.80 130.44L483.00 132.22L483.20 133.63L483.40 134.62L483.60 135.13L483.70 135.20L483.80 135.14L484.00 134.71L484.20 133.88L484.40 132.68L484.60 131.15L484.80 129.31L485.00 127.19L485.20 124.84L485.40 122.28L485.60 119.54L485.80 116.66L486.00 113.66L486.20 110.59L486.40 107.47L486.60 104.33L486.80 101.21L487.00 98.14L487.20 95.14L487.40 92.26L487.60 89.52L487.80 86.96L488.00 84.61L488.20 82.49L488.40 80.65L488.60 79.12L488.80 77.92L489.00 77.09L489.20 76.66L489.30 76.60L489.40 76.72L489.60 77.67L489.80 79.47L490.00 82.02L490.20 85.23L490.40 88.99L490.60 93.23L490.80 97.82L491.00 102.69L491.20 107.72L491.40 112.83L491.60 117.91L491.80 122.87L492.00 127.62L492.20 132.04L492.40 136.05L492.60 139.55L492.80 142.45L493.00 144.63L493.20 146.02L493.40 146.50L493.40 146.50L493.60 146.17L493.80 145.22L494.00 143.68L494.20 141.61L494.40 139.06L494.60 136.06L494.80 132.67L495.00 128.93L495.20 124.89L495.40 120.59L495.60 116.09L495.80 111.42L496.00 106.64L496.20 101.79L496.40 96.91L496.60 92.06L496.80 87.28L497.00 82.61L497.20 78.11L497.40 73.81L497.60 69.77L497.80 66.03L498.00 62.64L498.20 59.64L498.40 57.09L498.60 55.02L498.80 53.48L499.00 52.53L499.20 52.20L499.20 52.20L499.40 52.92L499.60 54.99L499.80 58.25L500.00 62.59L500.20 67.84L500.40 73.87L500.60 80.54L500.80 87.70L501.00 95.22L501.20 102.95L501.40 110.75L501.60 118.48L501.80 126.00L502.00 133.16L502.20 139.83L502.40 145.86L502.60 151.11L502.80 155.45L503.00 158.71L503.20 160.78L503.40 161.50L503.40 161.50L503.60 161.25L503.80 160.53L504.00 159.36L504.20 157.77L504.40 155.79L504.60 153.47L504.80 150.81L505.00 147.86L505.20 144.65L505.40 141.20L505.60 137.55L505.80 133.72L506.00 129.75L506.20 125.67L506.40 121.50L506.60 117.28L506.80 113.04L507.00 108.80L507.20 104.61L507.40 100.48L507.60 96.45L507.80 92.54L508.00 88.80L508.20 85.25L508.40 81.91L508.60 78.83L508.80 76.02L509.00 73.53L509.20 71.37L509.40 69.59L509.60 68.21L509.80 67.25L510.00 66.76L510.10 66.70L510.20 66.82L510.40 67.74L510.60 69.51L510.80 72.04L511.00 75.23L511.20 79.00L511.40 83.28L511.60 87.96L511.80 92.97L512.00 98.21L512.20 103.61L512.40 109.07L512.60 114.51L512.80 119.84L513.00 124.97L513.20 129.83L513.40 134.32L513.60 138.35L513.80 141.85L514.00 144.72L514.20 146.87L514.40 148.23L514.60 148.70L514.60 148.70L514.80 148.43L515.00 147.65L515.20 146.39L515.40 144.68L515.60 142.56L515.80 140.06L516.00 137.22L516.20 134.08L516.40 130.65L516.60 126.99L516.80 123.12L517.00 119.08L517.20 114.91L517.40 110.63L517.60 106.28L517.80 101.90L518.00 97.52L518.20 93.17L518.40 88.89L518.60 84.72L518.80 80.68L519.00 76.81L519.20 73.15L519.40 69.73L519.60 66.58L519.80 63.74L520.00 61.24L520.20 59.12L520.40 57.41L520.60 56.15L520.80 55.37L521.00 55.10L521.00 55.10L521.20 55.62L521.40 57.11L521.60 59.50L521.80 62.68L522.00 66.59L522.20 71.12L522.40 76.19L522.60 81.73L522.80 87.63L523.00 93.81L523.20 100.19L523.40 106.67L523.60 113.18L523.80 119.62L524.00 125.91L524.20 131.97L524.40 137.69L524.60 143.01L524.80 147.82L525.00 152.05L525.20 155.61L525.40 158.40L525.60 160.35L525.80 161.37L525.90 161.50L526.00 161.45L526.20 161.03L526.40 160.23L526.60 159.05L526.80 157.52L527.00 155.67L527.20 153.51L527.40 151.06L527.60 148.36L527.80 145.41L528.00 142.25L528.20 138.89L528.40 135.35L528.60 131.66L528.80 127.85L529.00 123.92L529.20 119.90L529.40 115.82L529.60 111.70L529.80 107.55L530.00 103.40L530.20 99.28L530.40 95.20L530.60 91.18L530.80 87.25L531.00 83.44L531.20 79.75L531.40 76.21L531.60 72.85L531.80 69.69L532.00 66.74L532.20 64.04L532.40 61.59L532.60 59.43L532.80 57.58L533.00 56.05L533.20 54.87L533.40 54.07L533.60 53.65L533.70 53.60L533.80 53.74L534.00 54.82L534.20 56.90L534.40 59.87L534.60 63.65L534.80 68.14L535.00 73.24L535.20 78.86L535.40 84.90L535.60 91.28L535.80 97.89L536.00 104.65L536.20 111.45L536.40 118.21L536.60 124.82L536.80 131.20L537.00 137.24L537.20 142.86L537.40 147.96L537.60 152.45L537.80 156.23L538.00 159.20L538.20 161.28L538.40 162.36L538.50 162.50L538.60 162.50L538.80 162.47L539.00 162.36L539.20 162.12L539.40 161.68L539.60 161.01L539.80 160.04L540.00 158.72L540.20 157.00" fill="none" stroke="#0072BD" stroke-width="1.00" stroke-linejoin="round"/>
<path d="M58.30 392.00L58.50 395.32L58.70 398.33L58.90 400.23L59.00 400.50L59.10 400.38L59.30 399.45L59.50 397.64L59.70 395.04L59.90 391.70L60.10 387.71L60.30 383.11L60.50 378.00L60.70 372.43L60.90 366.47L61.10 360.19L61.30 353.66L61.50 346.96L61.70 340.14L61.90 333.28L62.10 326.44L62.30 319.70L62.50 313.12L62.70 306.77L62.90 300.73L63.10 295.05L63.30 289.82L63.50 285.09L63.70 280.94L63.90 277.43L64.10 274.64L64.30 272.63L64.50 271.47L64.65 271.20L64.70 271.25L64.90 272.38L65.10 274.91L65.30 278.69L65.50 283.58L65.70 289.44L65.90 296.13L66.10 303.51L66.30 311.44L66.50 319.77L66.70 328.37L66.90 337.09L67.10 345.80L67.30 354.34L67.50 362.59L67.70 370.39L67.90 377.61L68.10 384.11L68.30 389.74L68.50 394.37L68.70 397.85L68.90 400.04L69.10 400.80L69.10 400.80L69.30 400.45L69.50 399.43L69.70 397.78L69.90 395.55L70.10 392.78L70.30 389.51L70.50 385.78L70.70 381.64L70.90 377.14L71.10 372.31L71.30 367.20L71.50 361.85L71.70 356.31L71.90 350.61L72.10 344.81L72.30 338.94L72.50 333.06L72.70 327.19L72.90 321.39L73.10 315.69L73.30 310.15L73.50 304.80L73.70 299.69L73.90 294.86L74.10 290.36L74.30 286.22L74.50 282.49L74.70 279.22L74.90 276.45L75.10 274.22L75.30 272.57L75.50 271.55L75.70 271.20L75.70 271.20L75.90 271.65L76.10 272.96L76.30 275.07L76.50 277.92L76.70 281.43L76.90 285.55L77.10 290.21L77.30 295.35L77.50 300.90L77.70 306.80L77.90 312.99L78.10 319.41L78.30 325.98L78.50 332.65L78.70 339.35L78.90 346.02L79.10 352.59L79.30 359.01L79.50 365.20L79.70 371.10L79.90 376.65L80.10 381.79L80.30 386.45L80.50 390.57L80.70 394.08L80.90 396.93L81.10 399.04L81.30 400.35L81.50 400.80L81.50 400.80L81.70 399.88L81.90 397.26L82.10 393.11L82.30 387.63L82.50 381.00L82.70 373.41L82.90 365.05L83.10 356.10L83.30 346.76L83.50 337.20L83.70 327.62L83.90 318.21L84.10 309.14L84.30 300.62L84.50 292.82L84.70 285.93L84.90 280.14L85.10 275.64L85.30 272.62L85.50 271.26L85.55 271.20L85.70 271.45L85.90 272.54L86.10 274.42L86.30 277.04L86.50 280.34L86.70 284.26L86.90 288.72L87.10 293.67L87.30 299.05L87.50 304.80L87.70 310.85L87.90 317.14L88.10 323.61L88.30 330.19L88.50 336.83L88.70 343.46L88.90 350.02L89.10 356.45L89.30 362.69L89.50 368.67L89.70 374.33L89.90 379.61L90.10 384.44L90.30 388.78L90.50 392.54L90.70 395.68L90.90 398.12L91.10 399.81L91.30 400.69L91.40 400.80L91.50 400.30L91.70 396.58L91.90 389.78L92.10 380.56L92.30 369.60L92.50 357.57L92.70 345.12L92.90 332.94L93.10 321.68L93.30 312.03L93.50 304.64L93.60 302.00L93.70 299.75L93.90 295.29L94.10 290.97L94.30 286.92L94.50 283.27L94.70 280.14L94.90 277.68L95.10 276.00L95.30 275.23L95.35 275.20L95.50 276.98L95.70 283.60L95.90 292.77L96.10 302.00L96.10 302.00L96.30 312.04L96.50 324.65L96.70 338.83L96.90 353.59L97.10 367.91L97.30 380.79L97.50 391.24L97.70 398.24L97.90 400.80L97.90 400.80L98.10 400.40L98.30 399.23L98.50 397.34L98.70 394.79L98.90 391.63L99.10 387.92L99.30 383.71L99.50 379.05L99.70 373.99L99.90 368.60L100.10 362.91L100.30 356.99L100.50 350.90L100.70 344.67L100.90 338.37L101.10 332.05L101.30 325.77L101.50 319.57L101.70 313.51L101.90 307.64L102.10 302.03L102.30 296.71L102.50 291.75L102.70 287.19L102.90 283.10L103.10 279.52L103.30 276.51L103.50 274.12L103.70 272.41L103.90 271.43L104.05 271.20L104.10 271.24L104.30 272.12L104.50 274.10L104.70 277.09L104.90 280.98L105.10 285.68L105.30 291.09L105.50 297.12L105.70 303.67L105.90 310.63L106.10 317.93L106.30 325.46L106.50 333.11L106.70 340.81L106.90 348.44L107.10 355.92L107.30 363.14L107.50 370.02L107.70 376.44L107.90 382.32L108.10 387.57L108.30 392.07L108.50 395.75L108.70 398.49L108.90 400.21L109.10 400.80L109.10 400.80L109.30 400.26L109.50 398.70L109.70 396.19L109.90 392.83L110.10 388.70L110.30 383.88L110.50 378.45L110.70 372.50L110.90 366.11L111.10 359.36L111.30 352.35L111.50 345.14L111.70 337.83L111.90 330.50L112.10 323.24L112.30 316.12L112.50 309.23L112.70 302.65L112.90 296.47L113.10 290.77L113.30 285.63L113.50 281.14L113.70 277.39L113.90 274.44L114.10 272.40L114.30 271.34L114.40 271.20L114.50 271.35L114.70 272.54L114.90 274.83L115.10 278.11L115.30 282.29L115.50 287.26L115.70 292.93L115.90 299.19L116.10 305.96L116.30 313.12L116.50 320.58L116.70 328.24L116.90 336.00L117.10 343.76L117.30 351.42L117.50 358.88L117.70 366.04L117.90 372.81L118.10 379.07L118.30 384.74L118.50 389.71L118.70 393.89L118.90 397.17L119.10 399.46L119.30 400.65L119.40 400.80L119.50 400.68L119.70 399.70L119.90 397.83L120.10 395.14L120.30 391.68L120.50 387.55L120.70 382.80L120.90 377.52L121.10 371.77L121.30 365.63L121.50 359.18L121.70 352.48L121.90 345.60L122.10 338.63L122.30 331.62L122.50 324.67L122.70 317.83L122.90 311.18L123.10 304.80L123.30 298.75L123.50 293.12L123.70 287.96L123.90 283.36L124.10 279.39L124.30 276.12L124.50 273.62L124.70 271.97L124.90 271.23L124.95 271.20L125.10 271.54L125.30 272.98L125.50 275.48L125.70 278.93L125.90 283.23L126.10 288.30L126.30 294.03L126.50 300.33L126.70 307.10L126.90 314.25L127.10 321.67L127.30 329.27L127.50 336.96L127.70 344.64L127.90 352.21L128.10 359.57L128.30 366.63L128.50 373.29L128.70 379.46L128.90 385.03L129.10 389.92L129.30 394.02L129.50 397.24L129.70 399.48L129.90 400.65L130.00 400.80L130.10 400.74L130.30 400.30L130.50 399.43L130.70 398.16L130.90 396.51L131.10 394.50L131.30 392.16L131.50 389.51L131.70 386.56L131.90 383.34L132.10 379.88L132.30 376.20L132.50 372.31L132.70 368.24L132.90 364.02L133.10 359.66L133.30 355.18L133.50 350.61L133.70 345.98L133.90 341.30L134.10 336.59L134.30 331.88L134.50 327.19L134.70 322.54L134.90 317.95L135.10 313.45L135.30 309.06L135.50 304.80L135.70 300.69L135.90 296.76L136.10 293.02L136.30 289.50L136.50 286.22L136.70 283.21L136.90 280.48L137.10 278.05L137.30 275.96L137.50 274.22L137.70 272.85L137.90 271.88L138.10 271.33L138.25 271.20L138.30 271.22L138.50 271.79L138.70 273.06L138.90 275.00L139.10 277.54L139.30 280.66L139.50 284.29L139.70 288.39L139.90 292.90L140.10 297.79L140.30 303.00L140.50 308.48L140.70 314.19L140.90 320.07L141.10 326.09L141.30 332.18L141.50 338.30L141.70 344.40L141.90 350.43L142.10 356.35L142.30 362.11L142.50 367.65L142.70 372.93L142.90 377.91L143.10 382.52L143.30 386.73L143.50 390.48L143.70 393.73L143.90 396.42L144.10 398.52L144.30 399.96L144.50 400.70L144.60 400.80L144.70 400.73L144.90 400.18L145.10 399.10L145.30 397.54L145.50 395.52L145.70 393.06L145.90 390.21L146.10 386.98L146.30 383.42L146.50 379.56L146.70 375.41L146.90 371.02L147.10 366.42L147.30 361.63L147.50 356.69L147.70 351.62L147.90 346.47L148.10 341.25L148.30 336.00L148.50 330.75L148.70 325.53L148.90 320.38L149.10 315.31L149.30 310.37L149.50 305.58L149.70 300.98L149.90 296.59L150.10 292.44L150.30 288.58L150.50 285.02L150.70 281.79L150.90 278.94L151.10 276.48L151.30 274.46L151.50 272.90L151.70 271.82L151.90 271.27L152.00 271.20L152.10 271.32L152.30 272.24L152.50 274.02L152.70 276.58L152.90 279.87L153.10 283.82L153.30 288.35L153.50 293.40L153.70 298.91L153.90 304.80L154.10 311.01L154.30 317.47L154.50 324.12L154.70 330.89L154.90 337.71L155.10 344.50L155.30 351.22L155.50 357.78L155.70 364.13L155.90 370.19L156.10 375.90L156.30 381.19L156.50 385.99L156.70 390.23L156.90 393.86L157.10 396.79L157.30 398.97L157.50 400.33L157.70 400.80L157.70 400.80L157.90 400.58L158.10 399.95L158.30 398.91L158.50 397.50L158.70 395.73L158.90 393.62L159.10 391.20L159.30 388.49L159.50 385.50L159.70 382.26L159.90 378.79L160.10 375.11L160.30 371.24L160.50 367.20L160.70 363.02L160.90 358.71L161.10 354.29L161.30 349.79L161.50 345.23L161.70 340.63L161.90 336.00L162.10 331.37L162.30 326.77L162.50 322.21L162.70 317.71L162.90 313.29L163.10 308.98L163.30 304.80L163.50 300.76L163.70 296.89L163.90 293.21L164.10 289.74L164.30 286.50L164.50 283.51L164.70 280.80L164.90 278.38L165.10 276.27L165.30 274.50L165.50 273.09L165.70 272.05L165.90 271.42L166.10 271.20L166.10 271.20L166.30 271.88L166.50 273.86L166.70 277.00L166.90 281.19L167.10 286.30L167.30 292.23L167.50 298.85L167.70 306.03L167.90 313.67L168.10 321.63L168.30 329.80L168.50 338.07L168.70 346.30L168.90 354.39L169.10 362.20L169.30 369.62L169.50 376.54L169.70 382.83L169.90 388.36L170.10 393.03L170.30 396.71L170.50 399.28L170.70 400.63L170.80 400.80L170.90 400.61L171.10 399.20L171.30 396.56L171.50 392.89L171.70 388.36L171.90 383.19L172.10 377.56L172.30 371.65L172.50 365.67L172.70 359.81L172.90 354.26L173.10 349.20L173.30 344.83L173.50 341.35L173.60 340.00L173.70 338.78L173.90 336.33L174.10 333.90L174.30 331.56L174.50 329.39L174.70 327.46L174.90 325.83L175.10 324.58L175.30 323.78L175.50 323.50L175.50 323.50L175.70 324.12L175.90 325.61L176.10 327.39L176.30 328.88L176.50 329.50L176.50 329.50L176.70 329.00L176.90 327.64L177.10 325.66L177.30 323.27L177.50 320.71L177.70 318.20L177.70 318.20L177.90 315.50L178.10 312.33L178.30 308.86L178.50 305.26L178.70 301.71L178.80 300.00L178.90 298.23L179.10 294.22L179.30 289.82L179.50 285.32L179.70 281.00L179.90 277.14L180.10 274.03L180.30 271.95L180.50 271.20L180.50 271.20L180.70 271.64L180.90 272.91L181.10 274.95L181.30 277.70L181.50 281.11L181.70 285.10L181.90 289.63L182.10 294.62L182.30 300.03L182.50 305.78L182.70 311.82L182.90 318.09L183.10 324.52L183.30 331.06L183.50 337.65L183.70 344.22L183.90 350.71L184.10 357.07L184.30 363.23L184.50 369.14L184.70 374.72L184.90 379.93L185.10 384.70L185.30 388.97L185.50 392.67L185.70 395.76L185.90 398.17L186.10 399.83L186.30 400.69L186.40 400.80L186.50 400.73L186.70 400.14L186.90 399.01L187.10 397.36L187.30 395.23L187.50 392.65L187.70 389.65L187.90 386.27L188.10 382.54L188.30 378.49L188.50 374.16L188.70 369.57L188.90 364.78L189.10 359.79L189.30 354.66L189.50 349.41L189.70 344.08L189.90 338.70L190.10 333.30L190.30 327.92L190.50 322.59L190.70 317.34L190.90 312.21L191.10 307.22L191.30 302.43L191.50 297.84L191.70 293.51L191.90 289.46L192.10 285.73L192.30 282.35L192.50 279.35L192.70 276.77L192.90 274.64L193.10 272.99L193.30 271.86L193.50 271.27L193.60 271.20L193.70 271.43L193.90 273.23L194.10 276.64L194.30 281.48L194.50 287.56L194.70 294.69L194.90 302.69L195.10 311.36L195.30 320.53L195.50 330.01L195.70 339.60L195.90 349.12L196.10 358.38L196.30 367.20L196.50 375.39L196.70 382.75L196.90 389.11L197.10 394.28L197.30 398.06L197.50 400.28L197.65 400.80L197.70 400.78L197.90 400.32L198.10 399.28L198.30 397.70L198.50 395.60L198.70 393.03L198.90 390.02L199.10 386.61L199.30 382.83L199.50 378.71L199.70 374.30L199.90 369.62L200.10 364.72L200.30 359.63L200.50 354.39L200.70 349.02L200.90 343.57L201.10 338.07L201.30 332.55L201.50 327.06L201.70 321.63L201.90 316.29L202.10 311.08L202.30 306.03L202.50 301.18L202.70 296.57L202.90 292.23L203.10 288.20L203.30 284.50L203.50 281.19L203.70 278.28L203.90 275.83L204.10 273.86L204.30 272.40L204.50 271.51L204.70 271.20L204.70 271.20L204.90 271.86L205.10 273.75L205.30 276.77L205.50 280.80L205.70 285.73L205.90 291.45L206.10 297.84L206.30 304.80L206.50 312.21L206.70 319.95L206.90 327.92L207.10 336.00L207.30 344.08L207.50 352.05L207.70 359.79L207.90 367.20L208.10 374.16L208.30 380.55L208.50 386.27L208.70 391.20L208.90 395.23L209.10 398.25L209.30 400.14L209.50 400.80L209.50 400.80L209.70 400.32L209.90 398.91L210.10 396.66L210.30 393.62L210.50 389.88L210.70 385.50L210.90 380.55L211.10 375.11L211.30 369.24L211.50 363.02L211.70 356.51L211.90 349.79L212.10 342.93L212.30 336.00L212.50 329.07L212.70 322.21L212.90 315.49L213.10 308.98L213.30 302.76L213.50 296.89L213.70 291.45L213.90 286.50L214.10 282.12L214.30 278.38L214.50 275.34L214.70 273.09L214.90 271.68L215.10 271.20L215.10 271.20L215.30 272.05L215.50 274.50L215.70 278.38L215.90 283.51L216.10 289.74L216.30 296.89L216.50 304.80L216.70 313.29L216.90 322.21L217.10 331.37L217.30 340.63L217.50 349.79L217.70 358.71L217.90 367.20L218.10 375.11L218.30 382.26L218.50 388.49L218.70 393.62L218.90 397.50L219.10 399.95L219.30 400.80L219.30 400.80L219.50 400.30L219.70 398.84L219.90 396.51L220.10 393.37L220.30 389.51L220.50 384.98L220.70 379.88L220.90 374.28L221.10 368.24L221.30 361.85L221.50 355.18L221.70 348.30L221.90 341.30L222.10 334.23L222.30 327.19L222.50 320.24L222.70 313.45L222.90 306.91L223.10 300.69L223.30 294.86L223.50 289.50L223.70 284.68L223.90 280.48L224.10 276.96L224.30 274.22L224.50 272.31L224.70 271.33L224.80 271.20L224.90 271.37L225.10 272.66L225.30 275.13L225.50 278.66L225.70 283.16L225.90 288.50L226.10 294.57L226.30 301.26L226.50 308.45L226.70 316.04L226.90 323.91L227.10 331.95L227.30 340.05L227.50 348.09L227.70 355.96L227.90 363.55L228.10 370.74L228.30 377.43L228.50 383.50L228.70 388.84L228.90 393.34L229.10 396.87L229.30 399.34L229.50 400.63L229.60 400.80L229.70 400.71L229.90 399.97L230.10 398.55L230.30 396.49L230.50 393.83L230.70 390.63L230.90 386.93L231.10 382.78L231.30 378.23L231.50 373.32L231.70 368.10L231.90 362.62L232.10 356.92L232.30 351.06L232.50 345.09L232.70 339.04L232.90 332.96L233.10 326.91L233.30 320.94L233.50 315.08L233.70 309.38L233.90 303.90L234.10 298.68L234.30 293.77L234.50 289.22L234.70 285.07L234.90 281.37L235.10 278.17L235.30 275.51L235.50 273.45L235.70 272.03L235.90 271.29L236.00 271.20L236.10 271.40L236.30 272.93L236.50 275.84L236.70 280.00L236.90 285.25L237.10 291.45L237.30 298.45L237.50 306.12L237.70 314.29L237.90 322.83L238.10 331.58L238.30 340.42L238.50 349.17L238.70 357.71L238.90 365.88L239.10 373.55L239.30 380.55L239.50 386.75L239.70 392.00L239.90 396.16L240.10 399.07L240.30 400.60L240.40 400.80L240.50 400.70L240.70 399.92L240.90 398.41L241.10 396.22L241.30 393.40L241.50 390.01L241.70 386.10L241.90 381.71L242.10 376.91L242.30 371.75L242.50 366.27L242.70 360.53L242.90 354.58L243.10 348.47L243.30 342.26L243.50 336.00L243.70 329.74L243.90 323.53L244.10 317.42L244.30 311.47L244.50 305.73L244.70 300.25L244.90 295.09L245.10 290.29L245.30 285.90L245.50 281.99L245.70 278.60L245.90 275.78L246.10 273.59L246.30 272.08L246.50 271.30L246.60 271.20L246.70 271.35L246.90 272.49L247.10 274.69L247.30 277.85L247.50 281.88L247.70 286.69L247.90 292.17L248.10 298.24L248.30 304.80L248.50 311.76L248.70 319.03L248.90 326.50L249.10 334.09L249.30 341.71L249.50 349.26L249.70 356.64L249.90 363.76L250.10 370.54L250.30 376.86L250.50 382.65L250.70 387.81L250.90 392.23L251.10 395.84L251.30 398.53L251.50 400.22L251.70 400.80L251.70 400.80L251.90 400.49L252.10 399.58L252.30 398.11L252.50 396.11L252.70 393.62L252.90 390.68L253.10 387.32L253.30 383.58L253.50 379.50L253.70 375.11L253.90 370.44L254.10 365.54L254.30 360.44L254.50 355.18L254.70 349.79L254.90 344.31L255.10 338.78L255.30 333.22L255.50 327.69L255.70 322.21L255.90 316.82L256.10 311.56L256.30 306.46L256.50 301.56L256.70 296.89L256.90 292.50L257.10 288.42L257.30 284.68L257.50 281.32L257.70 278.38L257.90 275.89L258.10 273.89L258.30 272.42L258.50 271.51L258.70 271.20L258.70 271.20L258.90 271.67L259.10 273.03L259.30 275.21L259.50 278.14L259.70 281.77L259.90 286.01L260.10 290.81L260.30 296.10L260.50 301.81L260.70 307.87L260.90 314.22L261.10 320.78L261.30 327.50L261.50 334.29L261.70 341.11L261.90 347.88L262.10 354.53L262.30 360.99L262.50 367.20L262.70 373.09L262.90 378.60L263.10 383.65L263.30 388.18L263.50 392.13L263.70 395.42L263.90 397.98L264.10 399.76L264.30 400.68L264.40 400.80L264.50 400.71L264.70 400.03L264.90 398.76L265.10 396.99L265.30 394.82L265.50 392.33L265.60 391.00" fill="none" stroke="#0072BD" stroke-width="1.00" stroke-linejoin="round"/>
<path d="M331.50 392.00L331.70 395.32L331.90 398.33L332.10 400.23L332.20 400.50L332.30 400.38L332.51 399.45L332.71 397.64L332.91 395.04L333.11 391.70L333.31 387.71L333.51 383.11L333.71 378.00L333.91 372.43L334.11 366.47L334.31 360.19L334.52 353.66L334.72 346.96L334.92 340.14L335.12 333.28L335.32 326.44L335.52 319.70L335.72 313.12L335.92 306.77L336.12 300.73L336.32 295.05L336.53 289.82L336.73 285.09L336.93 280.94L337.13 277.43L337.33 274.64L337.53 272.63L337.73 271.47L337.88 271.20L337.93 271.25L338.13 272.38L338.33 274.91L338.53 278.69L338.74 283.58L338.94 289.44L339.14 296.13L339.34 303.51L339.54 311.44L339.74 319.77L339.94 328.37L340.14 337.09L340.34 345.80L340.54 354.34L340.75 362.59L340.95 370.39L341.15 377.61L341.35 384.11L341.55 389.74L341.75 394.37L341.95 397.85L342.15 400.04L342.35 400.80L342.35 400.80L342.55 400.45L342.75 399.43L342.96 397.78L343.16 395.55L343.36 392.78L343.56 389.51L343.76 385.78L343.96 381.64L344.16 377.14L344.36 372.31L344.56 367.20L344.76 361.85L344.97 356.31L345.17 350.61L345.37 344.81L345.57 338.94L345.77 333.06L345.97 327.19L346.17 321.39L346.37 315.69L346.57 310.15L346.77 304.80L346.98 299.69L347.18 294.86L347.38 290.36L347.58 286.22L347.78 282.49L347.98 279.22L348.18 276.45L348.38 274.22L348.58 272.57L348.78 271.55L348.98 271.20L348.98 271.20L349.19 271.65L349.39 272.96L349.59 275.07L349.79 277.92L349.99 281.43L350.19 285.55L350.39 290.21L350.59 295.35L350.79 300.90L350.99 306.80L351.20 312.99L351.40 319.41L351.60 325.98L351.80 332.65L352.00 339.35L352.20 346.02L352.40 352.59L352.60 359.01L352.80 365.20L353.00 371.10L353.20 376.65L353.41 381.79L353.61 386.45L353.81 390.57L354.01 394.08L354.21 396.93L354.41 399.04L354.61 400.35L354.81 400.80L354.81 400.80L355.01 399.88L355.21 397.26L355.42 393.11L355.62 387.63L355.82 381.00L356.02 373.41L356.22 365.05L356.42 356.10L356.62 346.76L356.82 337.20L357.02 327.62L357.22 318.21L357.43 309.14L357.63 300.62L357.83 292.82L358.03 285.93L358.23 280.14L358.43 275.64L358.63 272.62L358.83 271.26L358.88 271.20L359.03 271.45L359.23 272.54L359.43 274.42L359.64 277.04L359.84 280.34L360.04 284.26L360.24 288.72L360.44 293.67L360.64 299.05L360.84 304.80L361.04 310.85L361.24 317.14L361.44 323.61L361.65 330.19L361.85 336.83L362.05 343.46L362.25 350.02L362.45 356.45L362.65 362.69L362.85 368.67L363.05 374.33L363.25 379.61L363.45 384.44L363.65 388.78L363.86 392.54L364.06 395.68L364.26 398.12L364.46 399.81L364.66 400.69L364.76 400.80L364.86 400.30L365.06 396.58L365.26 389.78L365.46 380.56L365.66 369.60L365.87 357.57L366.07 345.12L366.27 332.94L366.47 321.68L366.67 312.03L366.87 304.64L366.97 302.00L367.07 299.75L367.27 295.29L367.47 290.97L367.67 286.92L367.88 283.27L368.08 280.14L368.28 277.68L368.48 276.00L368.68 275.23L368.73 275.20L368.88 276.98L369.08 283.60L369.28 292.77L369.48 302.00L369.48 302.00L369.68 312.04L369.88 324.65L370.09 338.83L370.29 353.59L370.49 367.91L370.69 380.79L370.89 391.24L371.09 398.24L371.29 400.80L371.29 400.80L371.49 400.40L371.69 399.23L371.89 397.34L372.10 394.79L372.30 391.63L372.50 387.92L372.70 383.71L372.90 379.05L373.10 373.99L373.30 368.60L373.50 362.91L373.70 356.99L373.90 350.90L374.10 344.67L374.31 338.37L374.51 332.05L374.71 325.77L374.91 319.57L375.11 313.51L375.31 307.64L375.51 302.03L375.71 296.71L375.91 291.75L376.11 287.19L376.32 283.10L376.52 279.52L376.72 276.51L376.92 274.12L377.12 272.41L377.32 271.43L377.47 271.20L377.52 271.24L377.72 272.12L377.92 274.10L378.12 277.09L378.33 280.98L378.53 285.68L378.73 291.09L378.93 297.12L379.13 303.67L379.33 310.63L379.53 317.93L379.73 325.46L379.93 333.11L380.13 340.81L380.33 348.44L380.54 355.92L380.74 363.14L380.94 370.02L381.14 376.44L381.34 382.32L381.54 387.57L381.74 392.07L381.94 395.75L382.14 398.49L382.34 400.21L382.55 400.80L382.55 400.80L382.75 400.26L382.95 398.70L383.15 396.19L383.35 392.83L383.55 388.70L383.75 383.88L383.95 378.45L384.15 372.50L384.35 366.11L384.55 359.36L384.76 352.35L384.96 345.14L385.16 337.83L385.36 330.50L385.56 323.24L385.76 316.12L385.96 309.23L386.16 302.65L386.36 296.47L386.56 290.77L386.77 285.63L386.97 281.14L387.17 277.39L387.37 274.44L387.57 272.40L387.77 271.34L387.87 271.20L387.97 271.35L388.17 272.54L388.37 274.83L388.57 278.11L388.78 282.29L388.98 287.26L389.18 292.93L389.38 299.19L389.58 305.96L389.78 313.12L389.98 320.58L390.18 328.24L390.38 336.00L390.58 343.76L390.78 351.42L390.99 358.88L391.19 366.04L391.39 372.81L391.59 379.07L391.79 384.74L391.99 389.71L392.19 393.89L392.39 397.17L392.59 399.46L392.79 400.65L392.89 400.80L393.00 400.68L393.20 399.70L393.40 397.83L393.60 395.14L393.80 391.68L394.00 387.55L394.20 382.80L394.40 377.52L394.60 371.77L394.80 365.63L395.00 359.18L395.21 352.48L395.41 345.60L395.61 338.63L395.81 331.62L396.01 324.67L396.21 317.83L396.41 311.18L396.61 304.80L396.81 298.75L397.01 293.12L397.22 287.96L397.42 283.36L397.62 279.39L397.82 276.12L398.02 273.62L398.22 271.97L398.42 271.23L398.47 271.20L398.62 271.54L398.82 272.98L399.02 275.48L399.23 278.93L399.43 283.23L399.63 288.30L399.83 294.03L400.03 300.33L400.23 307.10L400.43 314.25L400.63 321.67L400.83 329.27L401.03 336.96L401.23 344.64L401.44 352.21L401.64 359.57L401.84 366.63L402.04 373.29L402.24 379.46L402.44 385.03L402.64 389.92L402.84 394.02L403.04 397.24L403.24 399.48L403.45 400.65L403.55 400.80L403.65 400.74L403.85 400.30L404.05 399.43L404.25 398.16L404.45 396.51L404.65 394.50L404.85 392.16L405.05 389.51L405.25 386.56L405.45 383.34L405.66 379.88L405.86 376.20L406.06 372.31L406.26 368.24L406.46 364.02L406.66 359.66L406.86 355.18L407.06 350.61L407.26 345.98L407.46 341.30L407.67 336.59L407.87 331.88L408.07 327.19L408.27 322.54L408.47 317.95L408.67 313.45L408.87 309.06L409.07 304.80L409.27 300.69L409.47 296.76L409.68 293.02L409.88 289.50L410.08 286.22L410.28 283.21L410.48 280.48L410.68 278.05L410.88 275.96L411.08 274.22L411.28 272.85L411.48 271.88L411.68 271.33L411.84 271.20L411.89 271.22L412.09 271.79L412.29 273.06L412.49 275.00L412.69 277.54L412.89 280.66L413.09 284.29L413.29 288.39L413.49 292.90L413.69 297.79L413.90 303.00L414.10 308.48L414.30 314.19L414.50 320.07L414.70 326.09L414.90 332.18L415.10 338.30L415.30 344.40L415.50 350.43L415.70 356.35L415.91 362.11L416.11 367.65L416.31 372.93L416.51 377.91L416.71 382.52L416.91 386.73L417.11 390.48L417.31 393.73L417.51 396.42L417.71 398.52L417.91 399.96L418.12 400.70L418.22 400.80L418.32 400.73L418.52 400.18L418.72 399.10L418.92 397.54L419.12 395.52L419.32 393.06L419.52 390.21L419.72 386.98L419.92 383.42L420.13 379.56L420.33 375.41L420.53 371.02L420.73 366.42L420.93 361.63L421.13 356.69L421.33 351.62L421.53 346.47L421.73 341.25L421.93 336.00L422.13 330.75L422.34 325.53L422.54 320.38L422.74 315.31L422.94 310.37L423.14 305.58L423.34 300.98L423.54 296.59L423.74 292.44L423.94 288.58L424.14 285.02L424.35 281.79L424.55 278.94L424.75 276.48L424.95 274.46L425.15 272.90L425.35 271.82L425.55 271.27L425.65 271.20L425.75 271.32L425.95 272.24L426.15 274.02L426.36 276.58L426.56 279.87L426.76 283.82L426.96 288.35L427.16 293.40L427.36 298.91L427.56 304.80L427.76 311.01L427.96 317.47L428.16 324.12L428.36 330.89L428.57 337.71L428.77 344.50L428.97 351.22L429.17 357.78L429.37 364.13L429.57 370.19L429.77 375.90L429.97 381.19L430.17 385.99L430.37 390.23L430.58 393.86L430.78 396.79L430.98 398.97L431.18 400.33L431.38 400.80L431.38 400.80L431.58 400.58L431.78 399.95L431.98 398.91L432.18 397.50L432.38 395.73L432.58 393.62L432.79 391.20L432.99 388.49L433.19 385.50L433.39 382.26L433.59 378.79L433.79 375.11L433.99 371.24L434.19 367.20L434.39 363.02L434.59 358.71L434.80 354.29L435.00 349.79L435.20 345.23L435.40 340.63L435.60 336.00L435.80 331.37L436.00 326.77L436.20 322.21L436.40 317.71L436.60 313.29L436.81 308.98L437.01 304.80L437.21 300.76L437.41 296.89L437.61 293.21L437.81 289.74L438.01 286.50L438.21 283.51L438.41 280.80L438.61 278.38L438.81 276.27L439.02 274.50L439.22 273.09L439.42 272.05L439.62 271.42L439.82 271.20L439.82 271.20L440.02 271.88L440.22 273.86L440.42 277.00L440.62 281.19L440.82 286.30L441.03 292.23L441.23 298.85L441.43 306.03L441.63 313.67L441.83 321.63L442.03 329.80L442.23 338.07L442.43 346.30L442.63 354.39L442.83 362.20L443.03 369.62L443.24 376.54L443.44 382.83L443.64 388.36L443.84 393.03L444.04 396.71L444.24 399.28L444.44 400.63L444.54 400.80L444.64 400.61L444.84 399.20L445.04 396.56L445.25 392.89L445.45 388.36L445.65 383.19L445.85 377.56L446.05 371.65L446.25 365.67L446.45 359.81L446.65 354.26L446.85 349.20L447.05 344.83L447.26 341.35L447.36 340.00L447.46 338.78L447.66 336.33L447.86 333.90L448.06 331.56L448.26 329.39L448.46 327.46L448.66 325.83L448.86 324.58L449.06 323.78L449.26 323.50L449.26 323.50L449.47 324.12L449.67 325.61L449.87 327.39L450.07 328.88L450.27 329.50L450.27 329.50L450.47 329.00L450.67 327.64L450.87 325.66L451.07 323.27L451.27 320.71L451.48 318.20L451.48 318.20L451.68 315.50L451.88 312.33L452.08 308.86L452.28 305.26L452.48 301.71L452.58 300.00L452.68 298.23L452.88 294.22L453.08 289.82L453.28 285.32L453.48 281.00L453.69 277.14L453.89 274.03L454.09 271.95L454.29 271.20L454.29 271.20L454.49 271.64L454.69 272.91L454.89 274.95L455.09 277.70L455.29 281.11L455.49 285.10L455.70 289.63L455.90 294.62L456.10 300.03L456.30 305.78L456.50 311.82L456.70 318.09L456.90 324.52L457.10 331.06L457.30 337.65L457.50 344.22L457.71 350.71L457.91 357.07L458.11 363.23L458.31 369.14L458.51 374.72L458.71 379.93L458.91 384.70L459.11 388.97L459.31 392.67L459.51 395.76L459.71 398.17L459.92 399.83L460.12 400.69L460.22 400.80L460.32 400.73L460.52 400.14L460.72 399.01L460.92 397.36L461.12 395.23L461.32 392.65L461.52 389.65L461.72 386.27L461.93 382.54L462.13 378.49L462.33 374.16L462.53 369.57L462.73 364.78L462.93 359.79L463.13 354.66L463.33 349.41L463.53 344.08L463.73 338.70L463.93 333.30L464.14 327.92L464.34 322.59L464.54 317.34L464.74 312.21L464.94 307.22L465.14 302.43L465.34 297.84L465.54 293.51L465.74 289.46L465.94 285.73L466.15 282.35L466.35 279.35L466.55 276.77L466.75 274.64L466.95 272.99L467.15 271.86L467.35 271.27L467.45 271.20L467.55 271.43L467.75 273.23L467.95 276.64L468.16 281.48L468.36 287.56L468.56 294.69L468.76 302.69L468.96 311.36L469.16 320.53L469.36 330.01L469.56 339.60L469.76 349.12L469.96 358.38L470.16 367.20L470.37 375.39L470.57 382.75L470.77 389.11L470.97 394.28L471.17 398.06L471.37 400.28L471.52 400.80L471.57 400.78L471.77 400.32L471.97 399.28L472.17 397.70L472.38 395.60L472.58 393.03L472.78 390.02L472.98 386.61L473.18 382.83L473.38 378.71L473.58 374.30L473.78 369.62L473.98 364.72L474.18 359.63L474.38 354.39L474.59 349.02L474.79 343.57L474.99 338.07L475.19 332.55L475.39 327.06L475.59 321.63L475.79 316.29L475.99 311.08L476.19 306.03L476.39 301.18L476.60 296.57L476.80 292.23L477.00 288.20L477.20 284.50L477.40 281.19L477.60 278.28L477.80 275.83L478.00 273.86L478.20 272.40L478.40 271.51L478.61 271.20L478.61 271.20L478.81 271.86L479.01 273.75L479.21 276.77L479.41 280.80L479.61 285.73L479.81 291.45L480.01 297.84L480.21 304.80L480.41 312.21L480.61 319.95L480.82 327.92L481.02 336.00L481.22 344.08L481.42 352.05L481.62 359.79L481.82 367.20L482.02 374.16L482.22 380.55L482.42 386.27L482.62 391.20L482.83 395.23L483.03 398.25L483.23 400.14L483.43 400.80L483.43 400.80L483.63 400.32L483.83 398.91L484.03 396.66L484.23 393.62L484.43 389.88L484.63 385.50L484.83 380.55L485.04 375.11L485.24 369.24L485.44 363.02L485.64 356.51L485.84 349.79L486.04 342.93L486.24 336.00L486.44 329.07L486.64 322.21L486.84 315.49L487.05 308.98L487.25 302.76L487.45 296.89L487.65 291.45L487.85 286.50L488.05 282.12L488.25 278.38L488.45 275.34L488.65 273.09L488.85 271.68L489.06 271.20L489.06 271.20L489.26 272.05L489.46 274.50L489.66 278.38L489.86 283.51L490.06 289.74L490.26 296.89L490.46 304.80L490.66 313.29L490.86 322.21L491.06 331.37L491.27 340.63L491.47 349.79L491.67 358.71L491.87 367.20L492.07 375.11L492.27 382.26L492.47 388.49L492.67 393.62L492.87 397.50L493.07 399.95L493.28 400.80L493.28 400.80L493.48 400.30L493.68 398.84L493.88 396.51L494.08 393.37L494.28 389.51L494.48 384.98L494.68 379.88L494.88 374.28L495.08 368.24L495.28 361.85L495.49 355.18L495.69 348.30L495.89 341.30L496.09 334.23L496.29 327.19L496.49 320.24L496.69 313.45L496.89 306.91L497.09 300.69L497.29 294.86L497.50 289.50L497.70 284.68L497.90 280.48L498.10 276.96L498.30 274.22L498.50 272.31L498.70 271.33L498.80 271.20L498.90 271.37L499.10 272.66L499.30 275.13L499.51 278.66L499.71 283.16L499.91 288.50L500.11 294.57L500.31 301.26L500.51 308.45L500.71 316.04L500.91 323.91L501.11 331.95L501.31 340.05L501.51 348.09L501.72 355.96L501.92 363.55L502.12 370.74L502.32 377.43L502.52 383.50L502.72 388.84L502.92 393.34L503.12 396.87L503.32 399.34L503.52 400.63L503.62 400.80L503.73 400.71L503.93 399.97L504.13 398.55L504.33 396.49L504.53 393.83L504.73 390.63L504.93 386.93L505.13 382.78L505.33 378.23L505.53 373.32L505.74 368.10L505.94 362.62L506.14 356.92L506.34 351.06L506.54 345.09L506.74 339.04L506.94 332.96L507.14 326.91L507.34 320.94L507.54 315.08L507.74 309.38L507.95 303.90L508.15 298.68L508.35 293.77L508.55 289.22L508.75 285.07L508.95 281.37L509.15 278.17L509.35 275.51L509.55 273.45L509.75 272.03L509.96 271.29L510.06 271.20L510.16 271.40L510.36 272.93L510.56 275.84L510.76 280.00L510.96 285.25L511.16 291.45L511.36 298.45L511.56 306.12L511.76 314.29L511.96 322.83L512.17 331.58L512.37 340.42L512.57 349.17L512.77 357.71L512.97 365.88L513.17 373.55L513.37 380.55L513.57 386.75L513.77 392.00L513.97 396.16L514.18 399.07L514.38 400.60L514.48 400.80L514.58 400.70L514.78 399.92L514.98 398.41L515.18 396.22L515.38 393.40L515.58 390.01L515.78 386.10L515.98 381.71L516.19 376.91L516.39 371.75L516.59 366.27L516.79 360.53L516.99 354.58L517.19 348.47L517.39 342.26L517.59 336.00L517.79 329.74L517.99 323.53L518.19 317.42L518.40 311.47L518.60 305.73L518.80 300.25L519.00 295.09L519.20 290.29L519.40 285.90L519.60 281.99L519.80 278.60L520.00 275.78L520.20 273.59L520.41 272.08L520.61 271.30L520.71 271.20L520.81 271.35L521.01 272.49L521.21 274.69L521.41 277.85L521.61 281.88L521.81 286.69L522.01 292.17L522.21 298.24L522.41 304.80L522.62 311.76L522.82 319.03L523.02 326.50L523.22 334.09L523.42 341.71L523.62 349.26L523.82 356.64L524.02 363.76L524.22 370.54L524.42 376.86L524.63 382.65L524.83 387.81L525.03 392.23L525.23 395.84L525.43 398.53L525.63 400.22L525.83 400.80L525.83 400.80L526.03 400.49L526.23 399.58L526.43 398.11L526.64 396.11L526.84 393.62L527.04 390.68L527.24 387.32L527.44 383.58L527.64 379.50L527.84 375.11L528.04 370.44L528.24 365.54L528.44 360.44L528.64 355.18L528.85 349.79L529.05 344.31L529.25 338.78L529.45 333.22L529.65 327.69L529.85 322.21L530.05 316.82L530.25 311.56L530.45 306.46L530.65 301.56L530.86 296.89L531.06 292.50L531.26 288.42L531.46 284.68L531.66 281.32L531.86 278.38L532.06 275.89L532.26 273.89L532.46 272.42L532.66 271.51L532.86 271.20L532.86 271.20L533.07 271.67L533.27 273.03L533.47 275.21L533.67 278.14L533.87 281.77L534.07 286.01L534.27 290.81L534.47 296.10L534.67 301.81L534.87 307.87L535.08 314.22L535.28 320.78L535.48 327.50L535.68 334.29L535.88 341.11L536.08 347.88L536.28 354.53L536.48 360.99L536.68 367.20L536.88 373.09L537.09 378.60L537.29 383.65L537.49 388.18L537.69 392.13L537.89 395.42L538.09 397.98L538.29 399.76L538.49 400.68L538.59 400.80L538.69 400.71L538.89 400.03L539.09 398.76L539.30 396.99L539.50 394.82L539.70 392.33L539.80 391.00" fill="none" stroke="#0072BD" stroke-width="1.00" stroke-linejoin="round"/>
<path d="M333.48 271.10h8.80M337.88 266.70v8.80M334.77 267.99l6.22 6.22M334.77 274.21l6.22 -6.22M344.58 271.10h8.80M348.98 266.70v8.80M345.87 267.99l6.22 6.22M345.87 274.21l6.22 -6.22M354.48 271.10h8.80M358.88 266.70v8.80M355.77 267.99l6.22 6.22M355.77 274.21l6.22 -6.22M364.33 275.00h8.80M368.73 270.60v8.80M365.62 271.89l6.22 6.22M365.62 278.11l6.22 -6.22M373.07 271.10h8.80M377.47 266.70v8.80M374.36 267.99l6.22 6.22M374.36 274.21l6.22 -6.22M383.47 271.10h8.80M387.87 266.70v8.80M384.76 267.99l6.22 6.22M384.76 274.21l6.22 -6.22M394.07 271.10h8.80M398.47 266.70v8.80M395.36 267.99l6.22 6.22M395.36 274.21l6.22 -6.22M407.44 271.10h8.80M411.84 266.70v8.80M408.72 267.99l6.22 6.22M408.72 274.21l6.22 -6.22M421.25 271.10h8.80M425.65 266.70v8.80M422.54 267.99l6.22 6.22M422.54 274.21l6.22 -6.22M435.42 271.10h8.80M439.82 266.70v8.80M436.71 267.99l6.22 6.22M436.71 274.21l6.22 -6.22M449.89 271.10h8.80M454.29 266.70v8.80M451.18 267.99l6.22 6.22M451.18 274.21l6.22 -6.22M463.05 271.10h8.80M467.45 266.70v8.80M464.34 267.99l6.22 6.22M464.34 274.21l6.22 -6.22M474.21 271.10h8.80M478.61 266.70v8.80M475.49 267.99l6.22 6.22M475.49 274.21l6.22 -6.22M484.66 271.10h8.80M489.06 266.70v8.80M485.94 267.99l6.22 6.22M485.94 274.21l6.22 -6.22M494.40 271.10h8.80M498.80 266.70v8.80M495.69 267.99l6.22 6.22M495.69 274.21l6.22 -6.22M505.66 271.10h8.80M510.06 266.70v8.80M506.94 267.99l6.22 6.22M506.94 274.21l6.22 -6.22M516.31 271.10h8.80M520.71 266.70v8.80M517.60 267.99l6.22 6.22M517.60 274.21l6.22 -6.22M528.46 271.10h8.80M532.86 266.70v8.80M529.75 267.99l6.22 6.22M529.75 274.21l6.22 -6.22" fill="none" stroke="#FF0000" stroke-width="1.15"/>
<rect x="58.10" y="35.90" width="207.90" height="158.70" fill="none" stroke="#3a3a3a" stroke-width="1.2"/>
<path d="M90.60 194.60v-2.20M90.60 35.90v2.20M159.90 194.60v-2.20M159.90 35.90v2.20M229.30 194.60v-2.20M229.30 35.90v2.20M58.10 41.60h2.20M266.00 41.60h-2.20M58.10 102.90h2.20M266.00 102.90h-2.20M58.10 163.80h2.20M266.00 163.80h-2.20" stroke="#3a3a3a" stroke-width="1.0" fill="none"/>
<text class="tk" x="90.80" y="210.10" text-anchor="middle">1185</text>
<text class="tk" x="160.10" y="210.10" text-anchor="middle">1190</text>
<text class="tk" x="229.50" y="210.10" text-anchor="middle">1195</text>
<text class="tk" x="53.10" y="45.00" text-anchor="end">1</text>
<text class="tk" x="53.10" y="106.30" text-anchor="end">0.95</text>
<text class="tk" x="53.10" y="167.20" text-anchor="end">0.9</text>
<text class="lb" x="161.05" y="231.15" text-anchor="middle" textLength="53.0" lengthAdjust="spacingAndGlyphs">Time (s)</text>
<text class="lb" transform="translate(23.60 115.45) rotate(-90)" text-anchor="middle" textLength="68.0" lengthAdjust="spacingAndGlyphs">PPG (a.u.)</text>
<text class="tt" x="94.70" y="29.60" textLength="134.20" lengthAdjust="spacingAndGlyphs">(a) Raw PPG signal</text>
<rect x="331.30" y="35.90" width="208.90" height="158.70" fill="none" stroke="#3a3a3a" stroke-width="1.2"/>
<path d="M364.00 194.60v-2.20M364.00 35.90v2.20M433.70 194.60v-2.20M433.70 35.90v2.20M503.50 194.60v-2.20M503.50 35.90v2.20M331.30 73.40h2.20M540.20 73.40h-2.20M331.30 111.80h2.20M540.20 111.80h-2.20M331.30 150.30h2.20M540.20 150.30h-2.20M331.30 188.70h2.20M540.20 188.70h-2.20" stroke="#3a3a3a" stroke-width="1.0" fill="none"/>
<text class="tk" x="364.20" y="210.10" text-anchor="middle">1185</text>
<text class="tk" x="433.90" y="210.10" text-anchor="middle">1190</text>
<text class="tk" x="503.70" y="210.10" text-anchor="middle">1195</text>
<text class="tk" x="326.30" y="76.80" text-anchor="end">0.5</text>
<text class="tk" x="326.30" y="115.20" text-anchor="end">0</text>
<text class="tk" x="299.64" y="154.20"><tspan textLength="10.00" lengthAdjust="spacingAndGlyphs">−</tspan><tspan x="309.64" y="153.70">0.5</tspan></text>
<text class="tk" x="309.63" y="192.60"><tspan textLength="10.00" lengthAdjust="spacingAndGlyphs">−</tspan><tspan x="319.63" y="192.10">1</tspan></text>
<text class="lb" x="434.75" y="231.15" text-anchor="middle" textLength="53.0" lengthAdjust="spacingAndGlyphs">Time (s)</text>
<text class="lb" transform="translate(293.20 115.45) rotate(-90)" text-anchor="middle" textLength="68.0" lengthAdjust="spacingAndGlyphs">PPG (a.u.)</text>
<text class="tt" x="359.50" y="29.60" textLength="151.80" lengthAdjust="spacingAndGlyphs">(b) Filtered with IDWT</text>
<rect x="58.10" y="256.60" width="207.90" height="159.00" fill="none" stroke="#3a3a3a" stroke-width="1.2"/>
<path d="M90.60 415.60v-2.20M90.60 256.60v2.20M159.90 415.60v-2.20M159.90 256.60v2.20M229.30 415.60v-2.20M229.30 256.60v2.20M58.10 271.20h2.20M266.00 271.20h-2.20M58.10 303.60h2.20M266.00 303.60h-2.20M58.10 336.00h2.20M266.00 336.00h-2.20M58.10 368.40h2.20M266.00 368.40h-2.20M58.10 400.80h2.20M266.00 400.80h-2.20" stroke="#3a3a3a" stroke-width="1.0" fill="none"/>
<text class="tk" x="90.80" y="431.10" text-anchor="middle">1185</text>
<text class="tk" x="160.10" y="431.10" text-anchor="middle">1190</text>
<text class="tk" x="229.50" y="431.10" text-anchor="middle">1195</text>
<text class="tk" x="53.10" y="274.60" text-anchor="end">1</text>
<text class="tk" x="53.10" y="307.00" text-anchor="end">0.5</text>
<text class="tk" x="53.10" y="339.40" text-anchor="end">0</text>
<text class="tk" x="26.44" y="372.30"><tspan textLength="10.00" lengthAdjust="spacingAndGlyphs">−</tspan><tspan x="36.44" y="371.80">0.5</tspan></text>
<text class="tk" x="36.44" y="404.70"><tspan textLength="10.00" lengthAdjust="spacingAndGlyphs">−</tspan><tspan x="46.44" y="404.20">1</tspan></text>
<text class="lb" x="161.05" y="452.15" text-anchor="middle" textLength="53.0" lengthAdjust="spacingAndGlyphs">Time (s)</text>
<text class="lb" transform="translate(20.00 336.30) rotate(-90)" text-anchor="middle" textLength="68.0" lengthAdjust="spacingAndGlyphs">PPG (a.u.)</text>
<text class="tt" x="43.10" y="250.40" textLength="236.60" lengthAdjust="spacingAndGlyphs">(c) Amplitude modulation removal</text>
<rect x="331.30" y="256.60" width="208.90" height="159.00" fill="none" stroke="#3a3a3a" stroke-width="1.2"/>
<path d="M364.00 415.60v-2.20M364.00 256.60v2.20M433.70 415.60v-2.20M433.70 256.60v2.20M503.50 415.60v-2.20M503.50 256.60v2.20M331.30 271.20h2.20M540.20 271.20h-2.20M331.30 303.60h2.20M540.20 303.60h-2.20M331.30 336.00h2.20M540.20 336.00h-2.20M331.30 368.40h2.20M540.20 368.40h-2.20M331.30 400.80h2.20M540.20 400.80h-2.20" stroke="#3a3a3a" stroke-width="1.0" fill="none"/>
<text class="tk" x="364.20" y="431.10" text-anchor="middle">1185</text>
<text class="tk" x="433.90" y="431.10" text-anchor="middle">1190</text>
<text class="tk" x="503.70" y="431.10" text-anchor="middle">1195</text>
<text class="tk" x="326.30" y="274.60" text-anchor="end">1</text>
<text class="tk" x="326.30" y="307.00" text-anchor="end">0.5</text>
<text class="tk" x="326.30" y="339.40" text-anchor="end">0</text>
<text class="tk" x="299.64" y="372.30"><tspan textLength="10.00" lengthAdjust="spacingAndGlyphs">−</tspan><tspan x="309.64" y="371.80">0.5</tspan></text>
<text class="tk" x="309.63" y="404.70"><tspan textLength="10.00" lengthAdjust="spacingAndGlyphs">−</tspan><tspan x="319.63" y="404.20">1</tspan></text>
<text class="lb" x="434.75" y="452.15" text-anchor="middle" textLength="53.0" lengthAdjust="spacingAndGlyphs">Time (s)</text>
<text class="lb" transform="translate(293.20 336.30) rotate(-90)" text-anchor="middle" textLength="68.0" lengthAdjust="spacingAndGlyphs">PPG (a.u.)</text>
<text class="tt" x="370.00" y="250.40" textLength="131.30" lengthAdjust="spacingAndGlyphs">(d) Detected peaks</text>
</svg>
</body></html>
